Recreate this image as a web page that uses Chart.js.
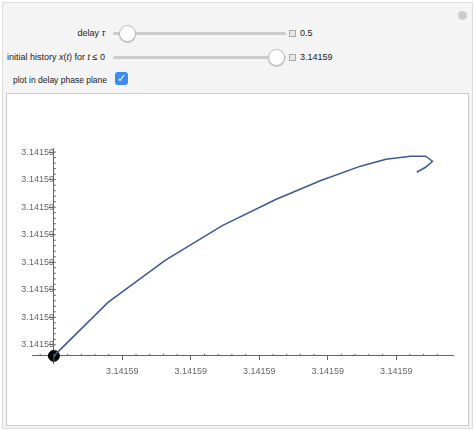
<!DOCTYPE html>
<html><head><meta charset="utf-8">
<script src="https://cdn.jsdelivr.net/npm/chart.js@4"></script>
<style>
body{margin:0;width:474px;height:430px;background:#fff;font-family:"Liberation Sans",Arial,sans-serif;font-size:9px;color:#222;position:relative;overflow:hidden}
#outer{position:absolute;left:2px;top:2px;width:469px;height:425px;background:#f4f4f4;border:1px solid #ddd}
.lab{position:absolute;text-align:right;width:110px;left:-8px}
.track{position:absolute;left:110px;width:173px;height:3px;background:#ccc;border-radius:2px}
.thumb{position:absolute;width:15px;height:15px;border-radius:50%;background:#fff;border:1px solid #bbb;box-shadow:0 1px 1px rgba(0,0,0,.2)}
.plus{position:absolute;left:286px;width:5px;height:5px;border:1px solid #aaa;background:#e8e8e8}
.val{position:absolute;left:297px}
#panel{position:absolute;left:6px;top:93px;width:461px;height:331px;background:#fff;border:1px solid #ccc}
canvas{position:absolute;left:0;top:0}
</style></head><body>
<div id="outer">
<div style="position:absolute;right:5px;top:8px;width:9px;height:9px;border-radius:50%;background:#ccc"></div>
<div class="lab" style="top:25px">delay <i>τ</i></div>
<div class="track" style="top:29px"></div><div class="thumb" style="left:116px;top:22px"></div>
<div class="plus" style="top:27px"></div><div class="val" style="top:25px">0.5</div>
<div class="lab" style="top:49px;left:-8px">initial history <i>x</i>(<i>t</i>) for <i>t</i> ≤ 0</div>
<div class="track" style="top:53px"></div><div class="thumb" style="left:265px;top:46px"></div>
<div class="plus" style="top:51px"></div><div class="val" style="top:49px">3.14159</div>
<div style="position:absolute;left:10px;top:72px;font-size:8.5px">plot in delay phase plane</div>
<div style="position:absolute;left:112px;top:69px;width:13px;height:13px;border-radius:3px;background:#3b8ef0;color:#fff;font-size:11px;line-height:13px;text-align:center">✓</div>
</div>
<div id="panel"><canvas id="c" width="461" height="331"></canvas></div>
<script>
const xs=[0,0.79,1.63,2.46,3.24,3.9,4.48,4.85,5.21,5.43,5.53,5.43,5.3];
const ys=[0,1.94,3.48,4.73,5.68,6.37,6.89,7.14,7.25,7.25,7.07,6.85,6.67];
const xTicks=[1,2,3,4,5];
const yTicks=[0.4,1.4,2.4,3.4,4.4,5.4,6.4,7.4];
const tickLabel="3.14159";
const minor={id:'minor',afterDraw(ch){const c=ch.ctx,x=ch.scales.x,y=ch.scales.y;const x0=x.getPixelForValue(0),y0=y.getPixelForValue(0);c.save();c.strokeStyle='#666';c.lineWidth=1;
for(let v=-0.2;v<5.8;v+=0.2){if(Math.abs(v-Math.round(v))<0.01&&Math.round(v)>0)continue;const p=x.getPixelForValue(v);c.beginPath();c.moveTo(p,y0);c.lineTo(p,y0-2);c.stroke();}
for(let v=-0.2;v<7.6;v+=0.2){const p=y.getPixelForValue(v);c.beginPath();c.moveTo(x0,p);c.lineTo(x0+2,p);c.stroke();}
const p=x.getPixelForValue(0);c.beginPath();c.moveTo(p,y0);c.lineTo(p,y0+5);c.stroke();c.restore();}};
new Chart(document.getElementById('c'),{type:'scatter',
data:{datasets:[{data:xs.map((v,i)=>({x:v,y:ys[i]})),showLine:true,borderColor:'#3d5a96',borderWidth:1.5,pointRadius:0,tension:0},
{data:[{x:xs[0],y:ys[0]}],pointRadius:5.5,backgroundColor:'#000',borderColor:'#000'}]},
plugins:[minor],
options:{responsive:false,animation:false,layout:{padding:{left:25,right:15,top:54,bottom:62}},
plugins:{legend:{display:false},tooltip:{enabled:false}},
scales:{
x:{type:'linear',position:{y:0},min:-0.32,max:5.83,afterBuildTicks(s){s.ticks=xTicks.map(v=>({value:v}));},
ticks:{callback:()=>tickLabel,color:'#666',font:{size:9},maxRotation:0,padding:6},
grid:{drawOnChartArea:false,drawTicks:true,tickLength:4,color:'#666'},border:{color:'#666'}},
y:{type:'linear',position:{x:0},min:-0.26,max:7.55,afterBuildTicks(s){s.ticks=yTicks.map(v=>({value:v}));},
ticks:{callback:()=>tickLabel,color:'#666',font:{size:9},padding:3},
grid:{drawOnChartArea:false,drawTicks:true,tickLength:4,color:'#666'},border:{color:'#666'}}}}});
</script></body></html>
